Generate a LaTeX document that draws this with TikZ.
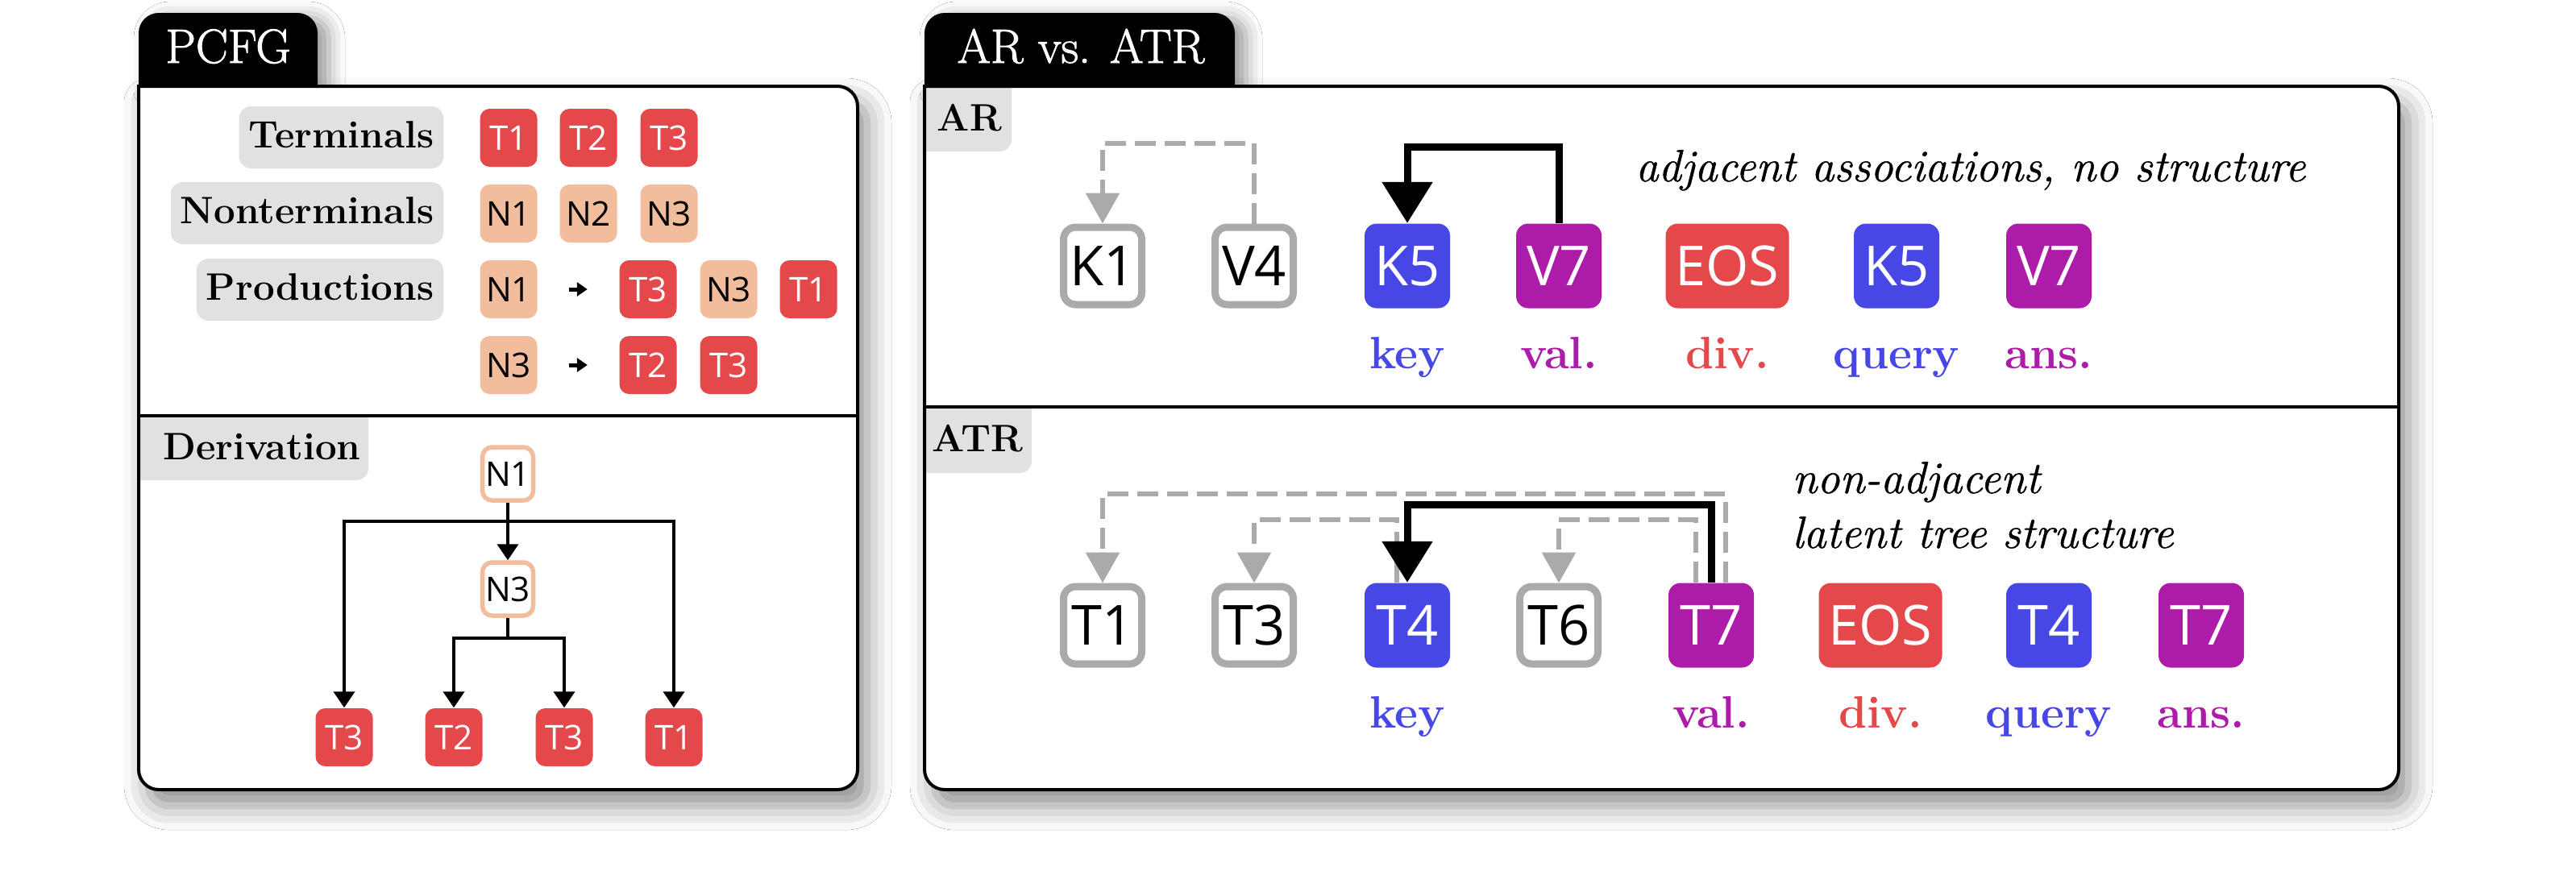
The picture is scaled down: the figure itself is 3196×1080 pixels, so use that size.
\documentclass[tikz,border=0pt]{standalone}
\usepackage{fontspec}
\newfontfamily\tokfont{Open Sans}
\newfontfamily\heavyserif[FakeBold=1.6]{Latin Modern Roman}
\newfontfamily\midserif[FakeBold=0.8]{Latin Modern Roman}
\usetikzlibrary{arrows.meta,shadows.blur,calc}
\definecolor{tred}{HTML}{E5484A}
\definecolor{tpeach}{HTML}{F2BD9D}
\definecolor{tblue}{HTML}{4747E6}
\definecolor{tpurple}{HTML}{AD1BA9}
\definecolor{tgray}{HTML}{AAAAAA}
\definecolor{lblbg}{HTML}{E1E1E1}
\tikzset{
 pshadow/.style={blur shadow={shadow xshift=1.2mm, shadow yshift=-2mm, shadow blur radius=3mm, shadow opacity=45}},
 tshadow/.style={blur shadow={shadow xshift=1.4mm, shadow yshift=-0.6mm, shadow blur radius=2mm, shadow opacity=40}},
 panelline/.style={draw=black, line width=0.4mm},
 tabtitle/.style={text=white, anchor=base, font=\heavyserif\fontsize{17}{20}\selectfont},
 lbl/.style={fill=lblbg, rounded corners=1.5mm, minimum height=7.7mm, inner xsep=1.2mm, inner ysep=0pt, text height=3.5mm, text depth=1.0mm, font=\bfseries\fontsize{13.5}{14}\selectfont},
 seclbl/.style={font=\bfseries\fontsize{13.5}{14}\selectfont},
 stok/.style={rounded corners=1.2mm, minimum width=7.1mm, minimum height=7.2mm, inner sep=0pt, font=\tokfont\fontsize{12}{14}\selectfont},
 redtok/.style={stok, fill=tred, text=white},
 peachtok/.style={stok, fill=tpeach, text=black},
 treen/.style={stok, draw=tpeach, line width=0.55mm, fill=white, minimum width=6.3mm, minimum height=6.6mm},
 btok/.style={rounded corners=1.5mm, minimum width=10.6mm, minimum height=10.5mm, inner sep=0pt, font=\tokfont\fontsize{19.5}{22}\selectfont},
 graytok/.style={btok, draw=tgray, line width=0.9mm, fill=white, minimum width=9.7mm, minimum height=9.6mm},
 bluetok/.style={btok, fill=tblue, text=white},
 purptok/.style={btok, fill=tpurple, text=white},
 redbig/.style={btok, fill=tred, text=white, minimum width=15.3mm},
 rolelbl/.style={anchor=base, font=\bfseries\fontsize{16}{18}\selectfont},
 notetext/.style={anchor=base west, font=\midserif\itshape\fontsize{16}{18}\selectfont},
 treearr/.style={draw=black, line width=0.4mm, -{Triangle[length=2mm,width=2.6mm]}},
 smallarr/.style={draw=black, line width=0.5mm, -{Triangle[length=1.3mm,width=1.7mm]}, shorten <=3.9mm, shorten >=3.9mm},
 dasharr/.style={draw=tgray, line width=0.6mm, dash pattern=on 2.6mm off 1.1mm, -{Triangle[length=3.8mm,width=4.1mm]}},
 solidarr/.style={draw=black, line width=0.9mm, -{Triangle[length=5.1mm,width=6.1mm]}},
}
\begin{document}
\begin{tikzpicture}[x=0.1mm,y=-0.1mm]
\useasboundingbox (0,0) rectangle (3196,1080);
\fill[white] (0,0) rectangle (3196,1080);

% ---------- tabs ----------
\fill[black, tshadow] (172,107) [rounded corners=2.5mm] -- (172,16) -- (394,16) [sharp corners] -- (394,107) -- cycle;
\fill[black, tshadow] (1147,107) [rounded corners=2.5mm] -- (1147,16) -- (1532,16) [sharp corners] -- (1532,107) -- cycle;
\node[tabtitle] (pcfgtitle) at (283,78) {PCFG};
\node[tabtitle] (artitle) at (1341,78) {AR vs. ATR};

% ---------- panel fills ----------
\fill[white, pshadow] (172,107) [rounded corners=2.5mm] -- (1064,107) -- (1064,980) -- (172,980) [sharp corners] -- cycle;
\fill[white, pshadow] (1147,107) [rounded corners=2.5mm] -- (2976,107) -- (2976,980) -- (1147,980) [sharp corners] -- cycle;

% ---------- section label backgrounds ----------
\begin{scope}
\clip (172,516) rectangle (1064,980);
\fill[lblbg, rounded corners=1.5mm] (140,480) rectangle (457,596);
\end{scope}
\begin{scope}
\clip (1147,107) rectangle (2976,505);
\fill[lblbg, rounded corners=1.5mm] (1110,70) rectangle (1255,188);
\end{scope}
\begin{scope}
\clip (1147,505) rectangle (2976,980);
\fill[lblbg, rounded corners=1.5mm] (1110,470) rectangle (1280,587);
\end{scope}

% ---------- panel borders and dividers ----------
\draw[panelline] (172,107) [rounded corners=2.5mm] -- (1064,107) -- (1064,980) -- (172,980) [sharp corners] -- cycle;
\draw[panelline] (1147,107) [rounded corners=2.5mm] -- (2976,107) -- (2976,980) -- (1147,980) [sharp corners] -- cycle;
\draw[panelline] (172,516) -- (1064,516);
\draw[panelline] (1147,505) -- (2976,505);

% ---------- PCFG definitions ----------
\node[lbl, anchor=east] (lterm) at (551,170.5) {Terminals};
\node[lbl, anchor=east] (lnon) at (551,264.5) {Nonterminals};
\node[lbl, anchor=east] (lprod) at (551,359.5) {Productions};

\node[redtok] (tt1) at (631,171) {T1};
\node[redtok] (tt2) at (730,171) {T2};
\node[redtok] (tt3) at (830,171) {T3};
\node[peachtok] (nn1) at (631,265) {N1};
\node[peachtok] (nn2) at (730,265) {N2};
\node[peachtok] (nn3) at (830,265) {N3};

\node[peachtok] (pn1) at (631,359) {N1};
\node[redtok] (pt3) at (804,359) {T3};
\node[peachtok] (pn3) at (904,359) {N3};
\node[redtok] (pt1) at (1003,359) {T1};
\draw[smallarr] (pn1) -- (pt3);

\node[peachtok] (qn3) at (631,453) {N3};
\node[redtok] (qt2) at (804,453) {T2};
\node[redtok] (qt3) at (904,453) {T3};
\draw[smallarr] (qn3) -- (qt2);

% ---------- Derivation ----------
\node[seclbl, anchor=base west] (derlbl) at (190,570) {Derivation};
\node[treen] (dn1) at (630,588) {N1};
\node[treen] (dn3) at (630,731) {N3};
\node[redtok] (dl1) at (427,915) {T3};
\node[redtok] (dl2) at (563,915) {T2};
\node[redtok] (dl3) at (700,915) {T3};
\node[redtok] (dl4) at (836,915) {T1};
\draw[treearr] (dn1.south) -- (dn3.north);
\draw[treearr] (dn1.south) -- ++(0,23) -| (dl1.north);
\draw[treearr] (dn1.south) -- ++(0,23) -| (dl4.north);
\draw[treearr] (dn3.south) -- ++(0,25) -| (dl2.north);
\draw[treearr] (dn3.south) -- ++(0,25) -| (dl3.north);

% ---------- AR ----------
\node[seclbl, anchor=base] (arlbl) at (1203,162) {AR};
\node[graytok] (ak1) at (1368,330) {K1};
\node[graytok] (av4) at (1556,330) {V4};
\node[bluetok] (ak5) at (1746,330) {K5};
\node[purptok] (av7) at (1934,330) {V7};
\node[redbig] (aeos) at (2143,330) {EOS};
\node[bluetok] (aq) at (2353,330) {K5};
\node[purptok] (aa) at (2542,330) {V7};

\node[rolelbl, text=tblue] (akey) at ($(ak5.south)+(0,74)$) {key};
\node[rolelbl, text=tpurple] (aval) at ($(av7.south)+(0,74)$) {val.};
\node[rolelbl, text=tred] (adiv) at ($(aeos.south)+(0,74)$) {div.};
\node[rolelbl, text=tblue] (aquery) at ($(aq.south)+(0,74)$) {query};
\node[rolelbl, text=tpurple] (aans) at ($(aa.south)+(0,74)$) {ans.};

\draw[dasharr] (av4.north) -- ++(0,-100) -| (ak1.north);
\draw[solidarr] (av7.north) -- ++(0,-94) -| (ak5.north);

\node[notetext] (arnote) at (2017,225) {adjacent associations, no structure};

% ---------- ATR ----------
\node[seclbl, anchor=base] (atrlbl) at (1213,560) {ATR};
\node[graytok] (bt1) at (1368,776) {T1};
\node[graytok] (bt3) at (1556,776) {T3};
\node[bluetok] (bt4) at (1746,776) {T4};
\node[graytok] (bt6) at (1934,776) {T6};
\node[purptok] (bt7) at (2123,776) {T7};
\node[redbig] (beos) at (2333,776) {EOS};
\node[bluetok] (bq) at (2542,776) {T4};
\node[purptok] (ba) at (2731,776) {T7};

\node[rolelbl, text=tblue] (bkey) at ($(bt4.south)+(0,74)$) {key};
\node[rolelbl, text=tpurple] (bval) at ($(bt7.south)+(0,74)$) {val.};
\node[rolelbl, text=tred] (bdiv) at ($(beos.south)+(0,74)$) {div.};
\node[rolelbl, text=tblue] (bquery) at ($(bq.south)+(0,74)$) {query};
\node[rolelbl, text=tpurple] (bans) at ($(ba.south)+(0,74)$) {ans.};

\draw[dasharr] ($(bt7.north)+(18,0)$) -- ++(0,-110) -| (bt1.north);
\draw[dasharr] ($(bt4.north)+(-13,0)$) -- ++(0,-78) -| (bt3.north);
\draw[dasharr] ($(bt7.north)+(-19,0)$) -- ++(0,-78) -| (bt6.north);
\draw[solidarr] (bt7.north) -- ++(0,-96) -| (bt4.north);

\node[notetext] (atrnote1) at (2211,612) {non-adjacent};
\node[notetext] (atrnote2) at (2211,680) {latent tree structure};
\end{tikzpicture}
\end{document}
